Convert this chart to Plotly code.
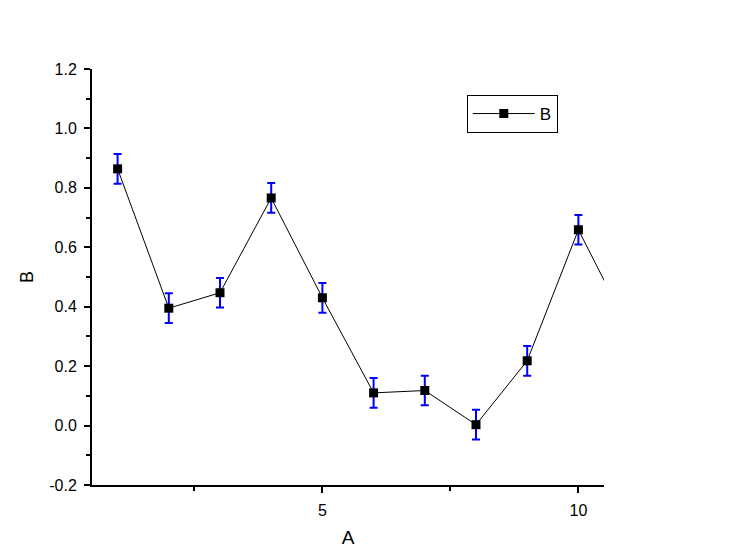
import plotly.graph_objects as go

# data
x_vals = [1, 2, 3, 4, 5, 6, 7, 8, 9, 10, 11]
b_vals = [0.864, 0.395, 0.447, 0.766, 0.43, 0.11, 0.118, 0.003, 0.218, 0.659, 0.32]
b_err = [0.05, 0.05, 0.05, 0.05, 0.05, 0.05, 0.05, 0.05, 0.05, 0.05, 0.05]
y_ticks = [-0.2, 0.0, 0.2, 0.4, 0.6, 0.8, 1.0, 1.2]
x_ticks = [5, 10]

font_name = "Liberation Sans, Arial, sans-serif"

fig = go.Figure()
fig.add_trace(go.Scatter(
    x=x_vals,
    y=b_vals,
    mode="lines+markers",
    name="B",
    showlegend=True,
    line=dict(color="black", width=1),
    marker=dict(symbol="square", size=9, color="black"),
    error_y=dict(type="data", array=b_err, color="#0000ff", thickness=2, width=4),
))

axis_common = dict(
    showline=True,
    linecolor="black",
    linewidth=2,
    ticks="outside",
    ticklen=6,
    tickwidth=2,
    tickcolor="black",
    showgrid=False,
    zeroline=False,
    mirror=False,
    automargin=False,
    ticklabelstandoff=4,
    tickfont=dict(family=font_name, size=16, color="black"),
)

# page body adds ~8px offset, margins are compensated for that
fig.update_layout(
    width=729,
    height=551,
    paper_bgcolor="white",
    plot_bgcolor="white",
    margin=dict(l=84, r=133, t=61, b=74),
    font=dict(family=font_name, color="black"),
    xaxis=dict(
        range=[0.5, 10.5],
        tickvals=x_ticks,
        ticktext=[str(v) for v in x_ticks],
        title=dict(text="A", font=dict(family=font_name, size=19), standoff=12),
        minor=dict(dtick=2.5, tick0=0, ticks="outside", ticklen=4, tickwidth=2, tickcolor="black"),
        **axis_common,
    ),
    yaxis=dict(
        range=[-0.2, 1.2],
        tickvals=y_ticks,
        ticktext=[f"{v:.1f}" for v in y_ticks],
        title=dict(text="B", font=dict(family=font_name, size=18), standoff=11),
        minor=dict(dtick=0.1, tick0=0, ticks="outside", ticklen=4, tickwidth=2, tickcolor="black"),
        **axis_common,
    ),
    legend=dict(
        x=0.732,
        y=0.9375,
        xanchor="left",
        yanchor="top",
        bordercolor="black",
        borderwidth=1,
        bgcolor="white",
        font=dict(family=font_name, size=17),
        itemwidth=62,
        tracegroupgap=0,
    ),
)

fig.write_html("out.html")
